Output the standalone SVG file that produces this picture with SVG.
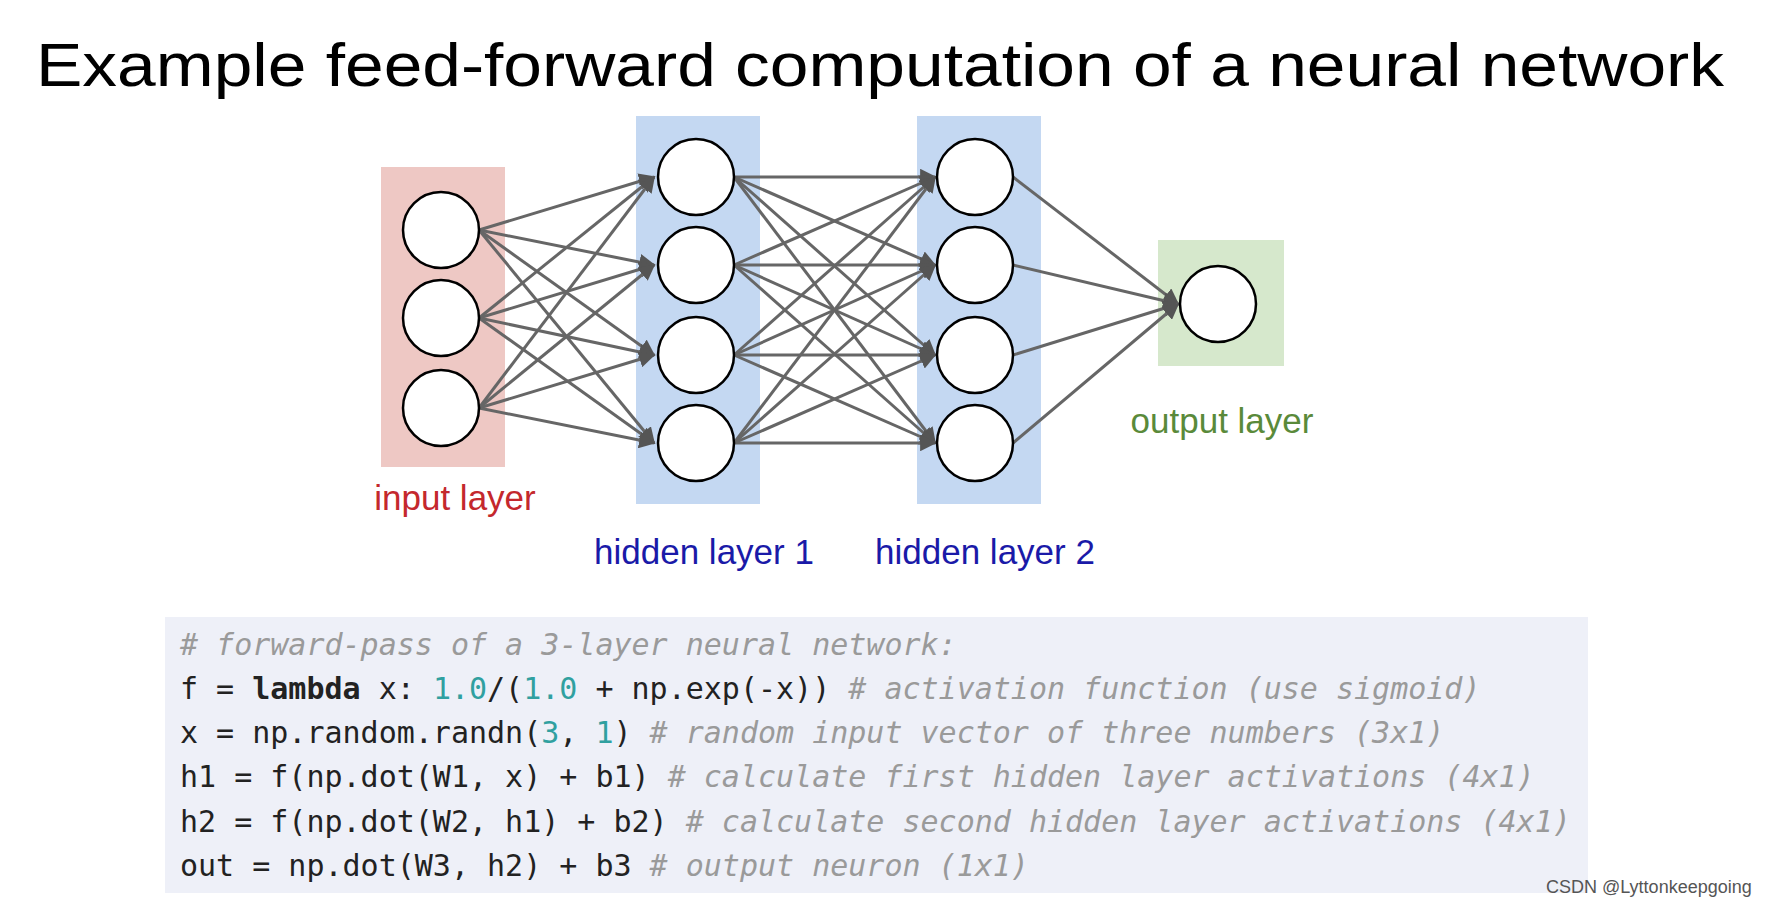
<svg xmlns="http://www.w3.org/2000/svg" width="1767" height="903" viewBox="0 0 1767 903">
<defs>
<style>
.n{fill:#fff;stroke:#000;stroke-width:2.5}
.c line{stroke:#666;stroke-width:3;marker-end:url(#a)}
.lab{font-family:"Liberation Sans",Arial,sans-serif;font-size:35px;text-anchor:middle}
.code{font-family:"DejaVu Sans Mono",monospace;font-size:30px;fill:#222}
.cm{fill:#9a9a9a;font-style:italic}
.num{fill:#30a0a0}
</style>
<marker id="a" viewBox="0 0 10 10" refX="9" refY="5" markerWidth="5.5" markerHeight="5.5" orient="auto" markerUnits="strokeWidth"><path d="M0,0L10,5L0,10z" fill="#555"/></marker>
</defs>
<rect width="1767" height="903" fill="#fff"/>
<text x="36" y="86" font-family="Liberation Sans,Arial,sans-serif" font-size="62" textLength="1688" lengthAdjust="spacingAndGlyphs">Example feed-forward computation of a neural network</text>
<rect x="381" y="167" width="124" height="300" fill="#eec8c4"/>
<rect x="636" y="116" width="124" height="388" fill="#c4d8f2"/>
<rect x="917" y="116" width="124" height="388" fill="#c4d8f2"/>
<rect x="1158" y="240" width="126" height="126" fill="#d6e8cc"/>
<g class="c">
<line x1="479" y1="230" x2="654" y2="177"/><line x1="479" y1="230" x2="654" y2="265"/><line x1="479" y1="230" x2="654" y2="355"/><line x1="479" y1="230" x2="654" y2="443"/>
<line x1="479" y1="318" x2="654" y2="177"/><line x1="479" y1="318" x2="654" y2="265"/><line x1="479" y1="318" x2="654" y2="355"/><line x1="479" y1="318" x2="654" y2="443"/>
<line x1="479" y1="408" x2="654" y2="177"/><line x1="479" y1="408" x2="654" y2="265"/><line x1="479" y1="408" x2="654" y2="355"/><line x1="479" y1="408" x2="654" y2="443"/>
<line x1="734" y1="177" x2="935" y2="177"/><line x1="734" y1="177" x2="935" y2="265"/><line x1="734" y1="177" x2="935" y2="355"/><line x1="734" y1="177" x2="935" y2="443"/>
<line x1="734" y1="265" x2="935" y2="177"/><line x1="734" y1="265" x2="935" y2="265"/><line x1="734" y1="265" x2="935" y2="355"/><line x1="734" y1="265" x2="935" y2="443"/>
<line x1="734" y1="355" x2="935" y2="177"/><line x1="734" y1="355" x2="935" y2="265"/><line x1="734" y1="355" x2="935" y2="355"/><line x1="734" y1="355" x2="935" y2="443"/>
<line x1="734" y1="443" x2="935" y2="177"/><line x1="734" y1="443" x2="935" y2="265"/><line x1="734" y1="443" x2="935" y2="355"/><line x1="734" y1="443" x2="935" y2="443"/>
<line x1="1013" y1="177" x2="1178" y2="304"/><line x1="1013" y1="265" x2="1178" y2="304"/><line x1="1013" y1="355" x2="1178" y2="304"/><line x1="1013" y1="443" x2="1178" y2="304"/>
</g>
<g id="in1"><ellipse class="n" cx="441" cy="230" rx="38" ry="38"/></g>
<g id="in2"><ellipse class="n" cx="441" cy="318" rx="38" ry="38"/></g>
<g id="in3"><ellipse class="n" cx="441" cy="408" rx="38" ry="38"/></g>
<g id="h11"><ellipse class="n" cx="696" cy="177" rx="38" ry="38"/></g>
<g id="h12"><ellipse class="n" cx="696" cy="265" rx="38" ry="38"/></g>
<g id="h13"><ellipse class="n" cx="696" cy="355" rx="38" ry="38"/></g>
<g id="h14"><ellipse class="n" cx="696" cy="443" rx="38" ry="38"/></g>
<g id="h21"><ellipse class="n" cx="975" cy="177" rx="38" ry="38"/></g>
<g id="h22"><ellipse class="n" cx="975" cy="265" rx="38" ry="38"/></g>
<g id="h23"><ellipse class="n" cx="975" cy="355" rx="38" ry="38"/></g>
<g id="h24"><ellipse class="n" cx="975" cy="443" rx="38" ry="38"/></g>
<g id="out"><ellipse class="n" cx="1218" cy="304" rx="38" ry="38"/></g>
<text class="lab" x="455" y="510" fill="#c4282d">input layer</text>
<text class="lab" x="704" y="564" fill="#1a1aa8">hidden layer 1</text>
<text class="lab" x="985" y="564" fill="#1a1aa8">hidden layer 2</text>
<text class="lab" x="1222" y="433" fill="#5a8a3a">output layer</text>
<rect x="165" y="617" width="1423" height="276" fill="#eef0f8"/>
<g class="code" xml:space="preserve">
<text x="180" y="655"><tspan class="cm"># forward-pass of a 3-layer neural network:</tspan></text>
<text x="180" y="699">f = <tspan font-weight="bold">lambda</tspan> x: <tspan class="num">1.0</tspan>/(<tspan class="num">1.0</tspan> + np.exp(-x)) <tspan class="cm"># activation function (use sigmoid)</tspan></text>
<text x="180" y="743">x = np.random.randn(<tspan class="num">3</tspan>, <tspan class="num">1</tspan>) <tspan class="cm"># random input vector of three numbers (3x1)</tspan></text>
<text x="180" y="787">h1 = f(np.dot(W1, x) + b1) <tspan class="cm"># calculate first hidden layer activations (4x1)</tspan></text>
<text x="180" y="832">h2 = f(np.dot(W2, h1) + b2) <tspan class="cm"># calculate second hidden layer activations (4x1)</tspan></text>
<text x="180" y="876">out = np.dot(W3, h2) + b3 <tspan class="cm"># output neuron (1x1)</tspan></text>
</g>
<text x="1546" y="893" font-family="Liberation Sans,Arial,sans-serif" font-size="18" fill="#555">CSDN @Lyttonkeepgoing</text>
</svg>
